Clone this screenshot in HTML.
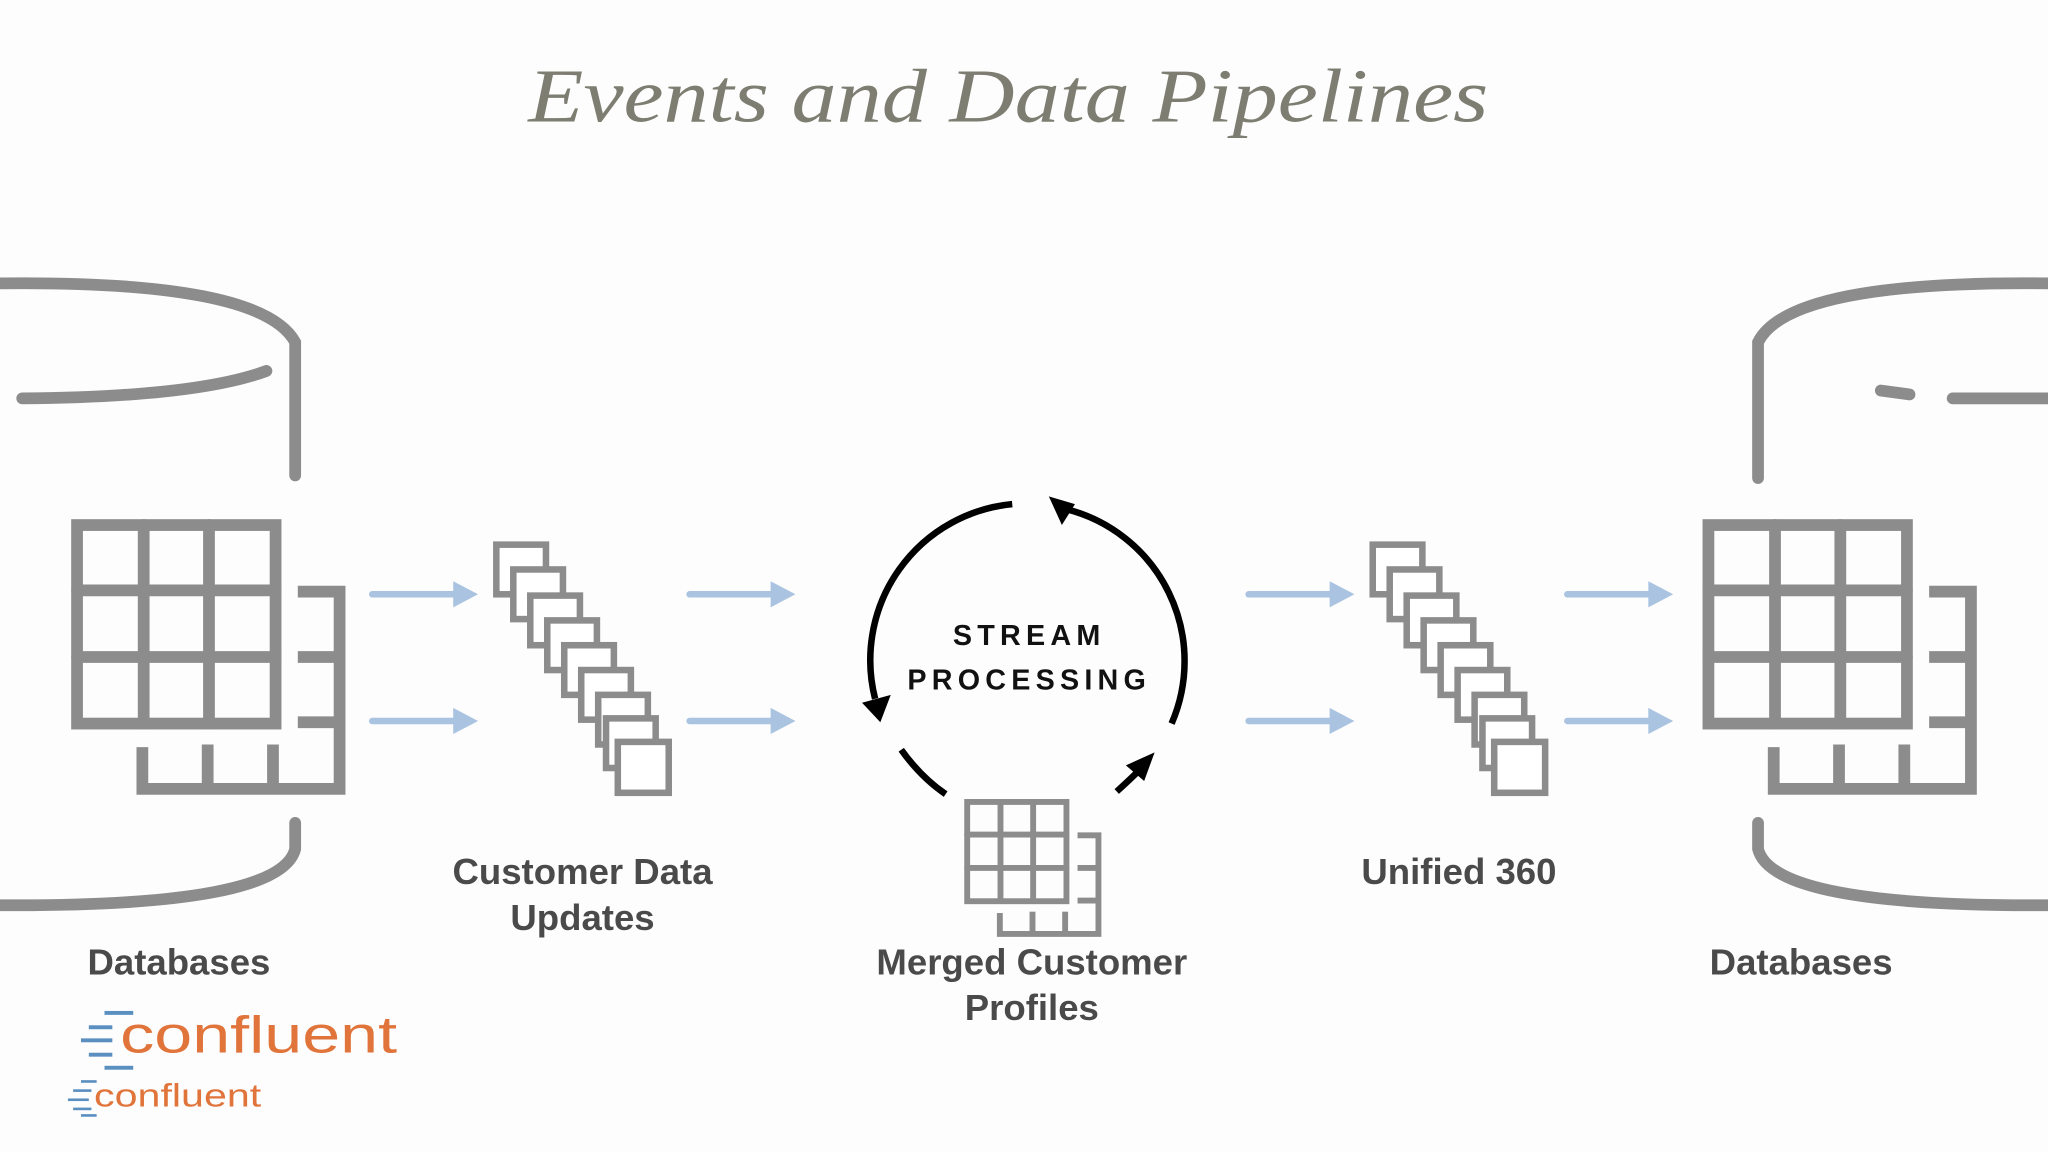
<!DOCTYPE html>
<html><head><meta charset="utf-8"><style>
html,body{margin:0;padding:0;background:#fdfdfd;}
svg{display:block;}
</style></head><body>
<svg width="2048" height="1152" viewBox="0 0 1568 882" preserveAspectRatio="none" xmlns="http://www.w3.org/2000/svg">
<defs>
<g id="db" fill="none" stroke="#8c8c8c" stroke-width="9" stroke-linecap="round">
  <rect x="59" y="402" width="152" height="152"/>
  <line x1="110" y1="402" x2="110" y2="554"/><line x1="160" y1="402" x2="160" y2="554"/>
  <line x1="59" y1="452" x2="211" y2="452"/><line x1="59" y1="503" x2="211" y2="503"/>
  <path d="M228 453 H260 V604 H109 V572" stroke-linecap="butt"/>
  <line x1="228" y1="503" x2="260" y2="503" stroke-linecap="butt"/><line x1="228" y1="553" x2="260" y2="553" stroke-linecap="butt"/>
  <line x1="159" y1="570" x2="159" y2="604" stroke-linecap="butt"/><line x1="209" y1="570" x2="209" y2="604" stroke-linecap="butt"/>
</g>
<g id="docs" fill="#fff" stroke="#8c8c8c" stroke-width="5">
  <rect x="380" y="417" width="38" height="38"/>
  <rect x="393" y="436" width="38" height="38"/>
  <rect x="406" y="456" width="38" height="38"/>
  <rect x="419" y="475" width="38" height="38"/>
  <rect x="432" y="494" width="38" height="38"/>
  <rect x="445" y="513" width="38" height="38"/>
  <rect x="458" y="532" width="38" height="38"/>
  <rect x="464" y="550" width="38" height="38"/>
  <rect x="473" y="568" width="39" height="39"/>
</g>
<g id="arr" fill="#a9c3e0" stroke="#a9c3e0">
  <line x1="285" y1="455" x2="350" y2="455" stroke-width="5" stroke-linecap="round"/>
  <polygon points="347,445 366,455 347,465" stroke="none"/>
</g>
</defs>
<text x="772" y="93" text-anchor="middle" font-family="'Liberation Serif',serif" font-style="italic" font-size="58" fill="#7d7d72" textLength="735" lengthAdjust="spacingAndGlyphs">Events and Data Pipelines</text>
<g fill="none" stroke="#8c8c8c" stroke-width="9" stroke-linecap="round">
  <path d="M-5 217 Q200 214 226 262 V364"/>
  <path d="M17 305 Q150 304 204 284"/>
  <path d="M226 630 V650 Q215 695 -5 693"/>
  <path d="M1573 217 Q1370 214 1346 262 V366"/>
  <path d="M1495 305 H1573"/><path d="M1440 299 L1462 302"/>
  <path d="M1346 630 V650 Q1357 695 1573 693"/>
</g>
<use href="#db"/>
<use href="#db" x="1249"/>
<use href="#docs"/>
<use href="#docs" x="671"/>
<use href="#arr"/><use href="#arr" y="97"/>
<use href="#arr" x="243"/><use href="#arr" x="243" y="97"/>
<use href="#arr" x="671"/><use href="#arr" x="671" y="97"/>
<use href="#arr" x="915"/><use href="#arr" x="915" y="97"/>
<g fill="none" stroke="#000" stroke-width="5">
  <path d="M775 386 A120 120 0 0 0 670 535"/>
  <path d="M817 390 A120 120 0 0 1 897 554"/>
  <path d="M690 574 Q705 595 724 608"/>
  <path d="M855 606 Q865 597 872 590"/>
</g>
<g fill="#000">
  <polygon points="660,538 682,532 674,553"/>
  <polygon points="803,380 823,386 813,402"/>
  <polygon points="862,586 884,576 876,598"/>
</g>
<text x="788" y="494" text-anchor="middle" font-family="'Liberation Sans',sans-serif" font-weight="bold" font-size="22" letter-spacing="4" fill="#111">STREAM</text>
<text x="788" y="528" text-anchor="middle" font-family="'Liberation Sans',sans-serif" font-weight="bold" font-size="22" letter-spacing="4" fill="#111">PROCESSING</text>
<g transform="translate(711 413) scale(0.5)">
  <use href="#db"/>
</g>
<g font-family="'Liberation Sans',sans-serif" font-weight="bold" font-size="28" fill="#4a4a4a" text-anchor="middle">
  <text x="137" y="746">Databases</text>
  <text x="446" y="677">Customer Data</text>
  <text x="446" y="712">Updates</text>
  <text x="790" y="746">Merged Customer</text>
  <text x="790" y="781">Profiles</text>
  <text x="1117" y="677">Unified 360</text>
  <text x="1379" y="746">Databases</text>
</g>
<text x="92" y="806" font-family="'Liberation Sans',sans-serif" font-size="40" fill="#e0743a" textLength="212" lengthAdjust="spacingAndGlyphs">confluent</text>
<text x="72" y="847" font-family="'Liberation Sans',sans-serif" font-size="25" fill="#e0743a" textLength="128" lengthAdjust="spacingAndGlyphs">confluent</text>
<g fill="#5a8fc0">
  <rect x="80" y="774" width="22" height="3"/><rect x="68" y="785" width="18" height="3"/>
  <rect x="62" y="795" width="24" height="3"/><rect x="68" y="806" width="18" height="3"/>
  <rect x="80" y="816" width="22" height="3"/>
  <rect x="62" y="827" width="12" height="2"/><rect x="56" y="834" width="14" height="2"/>
  <rect x="52" y="841" width="16" height="2"/><rect x="56" y="848" width="14" height="2"/>
  <rect x="62" y="853" width="12" height="2"/>
</g>
</svg>
</body></html>
